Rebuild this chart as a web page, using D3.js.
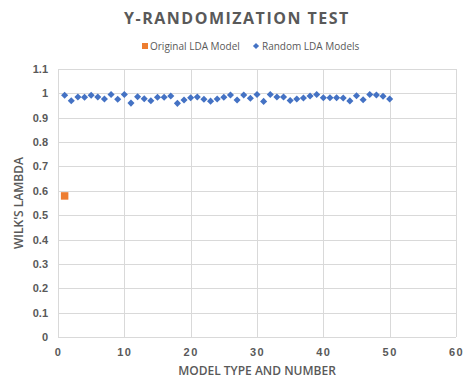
<!DOCTYPE html>
<html lang="en">
<head>
  <meta charset="UTF-8">
  <script src="https://d3js.org/d3.v7.min.js"></script>
  <style>
    body { margin: 0; background: #fff; font-family: 'Open Sans', sans-serif; }
    .grid line { stroke: #d9d9d9; stroke-width: 1; }
    .tick text { fill: #595959; font-size: 11px; font-weight: bold; }
    .title { fill: #595959; font-size: 16px; font-weight: bold; letter-spacing: 1.5px; }
    .axis-title { fill: #595959; font-size: 12px; font-weight: 600; }
    .legend text { fill: #595959; font-size: 10px; }
  </style>
</head>
<body>
<script>
  // original model (x = model number)
  const originalX = [1];
  const originalY = [0.579];

  // 50 randomized models
  const randomX = d3.range(1, 51);
  const randomY = [
    0.992, 0.970, 0.985, 0.984, 0.992, 0.985, 0.977, 0.995, 0.976, 0.995,
    0.960, 0.986, 0.978, 0.970, 0.984, 0.984, 0.989, 0.959, 0.973, 0.982,
    0.985, 0.976, 0.968, 0.977, 0.984, 0.993, 0.973, 0.993, 0.980, 0.995,
    0.967, 0.995, 0.985, 0.985, 0.971, 0.977, 0.981, 0.989, 0.995, 0.982,
    0.982, 0.982, 0.981, 0.969, 0.990, 0.974, 0.995, 0.993, 0.988, 0.977
  ];

  const xTicks = [0, 10, 20, 30, 40, 50, 60];
  const yTicks = [0, 0.1, 0.2, 0.3, 0.4, 0.5, 0.6, 0.7, 0.8, 0.9, 1, 1.1];

  const width = 474, height = 392;
  const margin = { top: 69, right: 18, bottom: 55, left: 58 };

  const svg = d3.select("body").append("svg")
    .attr("width", width)
    .attr("height", height);

  const x = d3.scaleLinear().domain([0, 60]).range([margin.left, width - margin.right]);
  const y = d3.scaleLinear().domain([0, 1.1]).range([height - margin.bottom, margin.top]);

  // gridlines
  const grid = svg.append("g").attr("class", "grid");
  grid.selectAll(".h").data(yTicks).enter().append("line")
    .attr("x1", x(0)).attr("x2", x(60))
    .attr("y1", d => Math.round(y(d)) + 0.5).attr("y2", d => Math.round(y(d)) + 0.5);
  grid.selectAll(".v").data(xTicks).enter().append("line")
    .attr("y1", y(0)).attr("y2", y(1.1))
    .attr("x1", d => Math.round(x(d)) + 0.5).attr("x2", d => Math.round(x(d)) + 0.5);

  // axes (labels only, lines come from the grid)
  const xAxis = svg.append("g")
    .attr("transform", `translate(0,${y(0)})`)
    .call(d3.axisBottom(x).tickValues(xTicks).tickSize(0).tickPadding(11).tickFormat(d3.format("d")));
  xAxis.select(".domain").remove();
  xAxis.selectAll("text").style("letter-spacing", "1.5px");

  const yAxis = svg.append("g")
    .attr("transform", `translate(${x(0)},0)`)
    .call(d3.axisLeft(y).tickValues(yTicks).tickSize(0).tickPadding(10).tickFormat(d => d3.format("")(+d.toFixed(1))));
  yAxis.select(".domain").remove();

  // random models: diamonds
  svg.append("g").selectAll("path").data(randomX).enter().append("path")
    .attr("d", d3.symbol().type(d3.symbolDiamond2).size(32))
    .attr("transform", (d, i) => `translate(${x(d)},${y(randomY[i])})`)
    .attr("fill", "#4472c4");

  // original model: square
  svg.append("g").selectAll("path").data(originalX).enter().append("path")
    .attr("d", d3.symbol().type(d3.symbolSquare).size(56))
    .attr("transform", (d, i) => `translate(${x(d)},${y(originalY[i])})`)
    .attr("fill", "#ed7d31");

  // titles
  svg.append("text").attr("class", "title")
    .attr("x", 237).attr("y", 24).attr("text-anchor", "middle")
    .text("Y-RANDOMIZATION TEST");

  svg.append("text").attr("class", "axis-title")
    .attr("x", (x(0) + x(60)) / 2).attr("y", 375).attr("text-anchor", "middle")
    .text("MODEL TYPE AND NUMBER");

  svg.append("text").attr("class", "axis-title")
    .attr("transform", `translate(23,${(y(0) + y(1.1)) / 2}) rotate(-90)`)
    .attr("text-anchor", "middle")
    .text("WILK'S LAMBDA");

  // legend
  const legend = svg.append("g").attr("class", "legend");
  legend.append("rect").attr("x", 142).attr("y", 43).attr("width", 6).attr("height", 6).attr("fill", "#ed7d31");
  legend.append("text").attr("x", 150).attr("y", 50).text("Original LDA Model");
  legend.append("path")
    .attr("d", d3.symbol().type(d3.symbolDiamond2).size(24))
    .attr("transform", "translate(256,46)")
    .attr("fill", "#4472c4");
  legend.append("text").attr("x", 262).attr("y", 50).text("Random LDA Models");
</script>
</body>
</html>
